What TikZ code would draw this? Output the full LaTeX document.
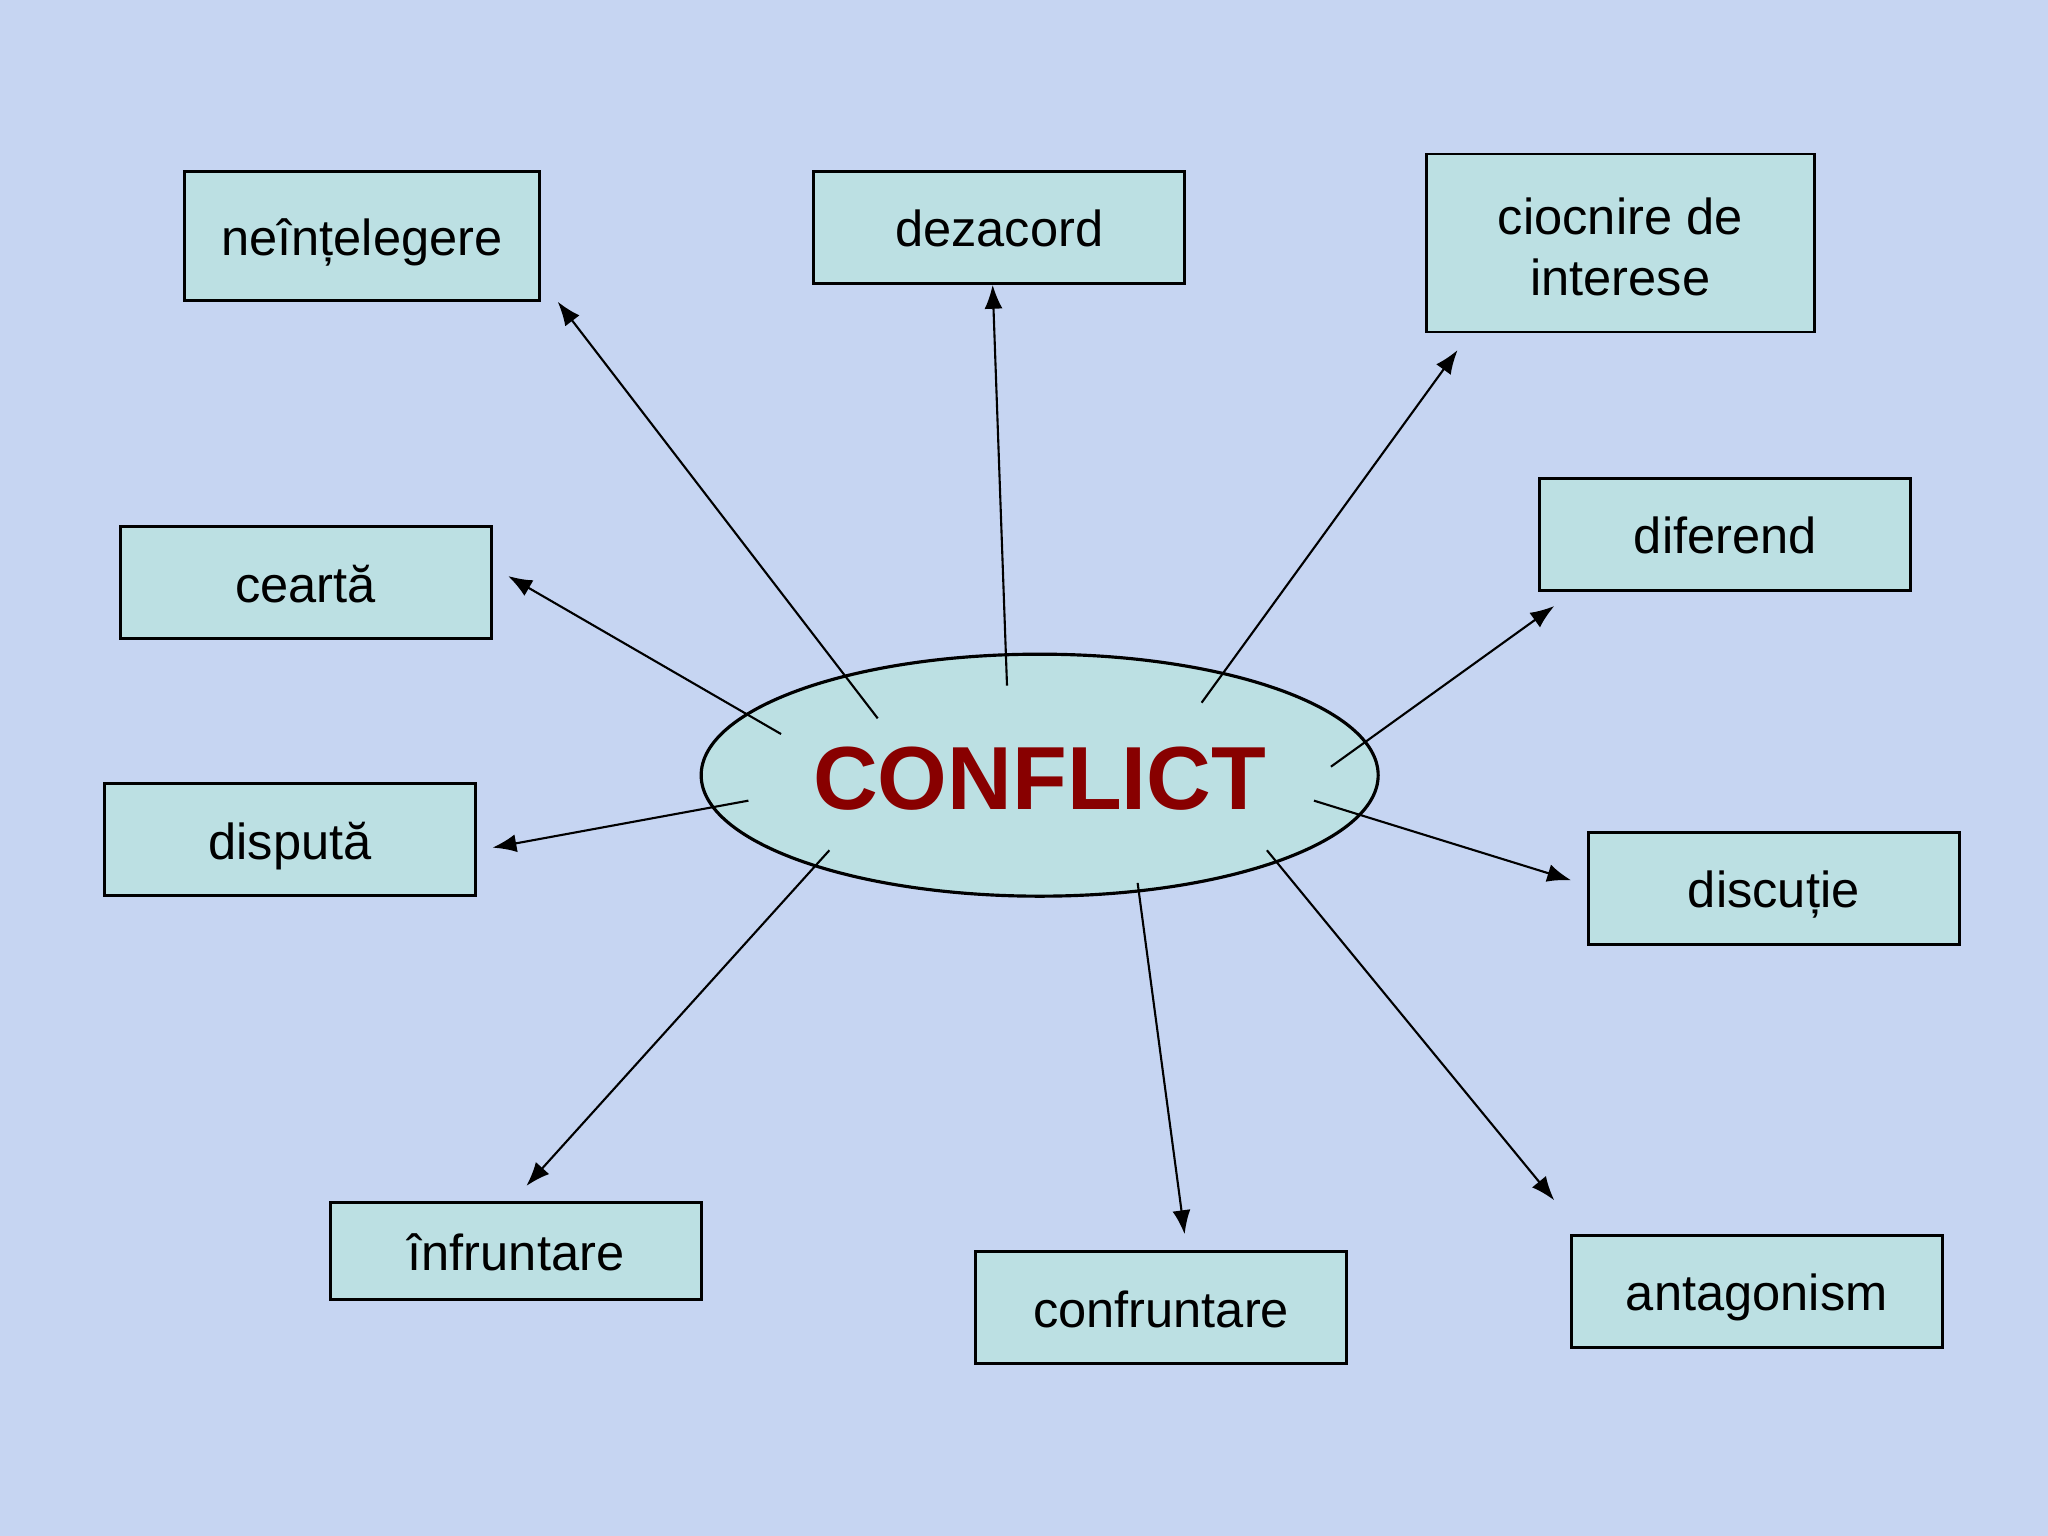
\documentclass[tikz,border=0pt]{standalone}
\usepackage{fontspec}
\setmainfont{Liberation Sans}
\usepackage{xcolor}
\usepackage{tikz}
\usetikzlibrary{shapes.geometric,arrows.meta}

\definecolor{slidebg}{HTML}{C6D5F2}
\definecolor{boxfill}{HTML}{BCE0E3}
\definecolor{conflictred}{RGB}{136,0,0}

\tikzset{
  term/.style={draw,fill=boxfill,line width=0.8pt,inner sep=0pt,
    minimum width=3.71cm,minimum height=1.12cm,
    font=\fontsize{14.4}{17.3}\selectfont,align=center},
  word/.style={term,text height=1.12em,text depth=0pt},
  arr/.style={line width=0.6pt,-{Latex[length=2.4mm,width=1.8mm]}}
}

\begin{document}
\begin{tikzpicture}[x=0.01306cm,y=-0.01306cm]
		\fill[slidebg] (0,0) rectangle (1568,1176);
		\useasboundingbox (0,0) rectangle (1568,1176);
		% centre
		\draw[fill=boxfill,line width=0.9pt] (796,593.5) ellipse (3.385cm and 1.21cm);
		\node[font=\fontsize{25.5}{30}\selectfont\bfseries,text=conflictred,inner sep=0pt]
		  (conf) at (796,596) {CONFLICT};
		% words
		\node[word,minimum width=3.55cm,minimum height=1.29cm] (nein) at (277,180.5) {neînțelegere};
		\node[word] (dez) at (765,174) {dezacord};
		\node[draw,fill=boxfill,line width=0.8pt,minimum width=3.88cm,minimum height=1.78cm] (cioc) at (1240.5,186) {};
		\node[font=\fontsize{14.4}{17.3}\selectfont,align=center,inner sep=0pt] (cioctext) at (1240.5,189) {ciocnire de\\interese};
		\node[word] (dif) at (1321,409) {diferend};
		\node[word] (cearta) at (234,446) {ceartă};
		\node[word] (discutie) at (1358,680) {discuție};
		\node[word] (disputa) at (222,643) {dispută};
		\node[word,minimum height=0.97cm] (infr) at (395,958) {înfruntare};
		\node[word] (confr) at (889,1001) {confruntare};
		\node[word] (antag) at (1345,988.5) {antagonism};
		% arrows
		\coordinate (s1) at (672,550);  \coordinate (t1) at (427,231);
		\coordinate (s2) at (771,525);  \coordinate (t2) at (760,218);
		\coordinate (s3) at (920,538);  \coordinate (t3) at (1116,268);
		\coordinate (s4) at (1019,587); \coordinate (t4) at (1190,464);
		\coordinate (s5) at (598,562);  \coordinate (t5) at (389,441);
		\coordinate (s6) at (1006,613); \coordinate (t6) at (1203,674);
		\coordinate (s7) at (573,613);  \coordinate (t7) at (377,649);
		\coordinate (s8) at (635,651);  \coordinate (t8) at (403,908);
		\coordinate (s9) at (871,676);  \coordinate (t9) at (907,945);
		\coordinate (s10) at (970,651); \coordinate (t10) at (1190,919);
		\draw[arr] (s1) -- (t1);
		\draw[arr] (s2) -- (t2);
		\draw[arr] (s3) -- (t3);
		\draw[arr] (s4) -- (t4);
		\draw[arr] (s5) -- (t5);
		\draw[arr] (s6) -- (t6);
		\draw[arr] (s7) -- (t7);
		\draw[arr] (s8) -- (t8);
		\draw[arr] (s9) -- (t9);
		\draw[arr] (s10) -- (t10);
\end{tikzpicture}
\end{document}
